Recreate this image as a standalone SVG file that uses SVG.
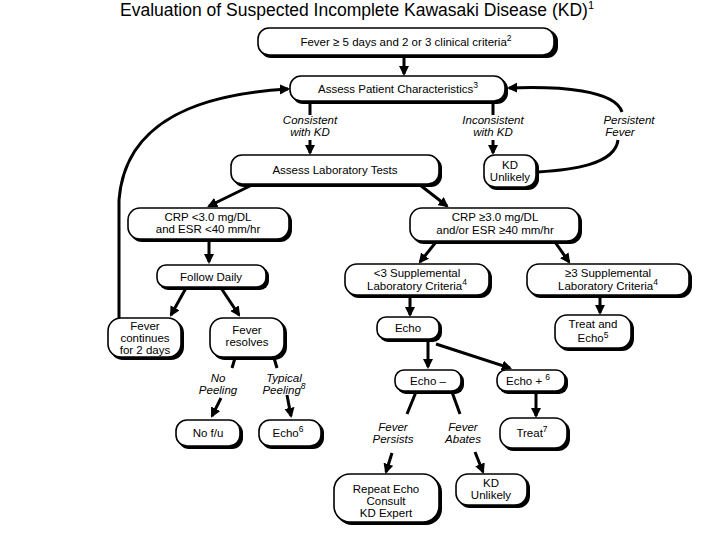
<svg xmlns="http://www.w3.org/2000/svg" width="720" height="540" viewBox="0 0 720 540">
<style>
text{font-family:"Liberation Sans",Arial,sans-serif;font-size:11.5px;fill:#000;text-anchor:middle}
.t{font-size:17.5px}
.i{font-style:italic}
.sh{fill:#000}
.bx{fill:#fff;stroke:#000;stroke-width:1.6}
.c path{fill:none;stroke:#000;stroke-width:3}
.s{font-size:8.5px}
</style>
<defs>
<marker id="a" viewBox="0 0 10 10" refX="8" refY="5" markerWidth="3.4" markerHeight="3.4" orient="auto" markerUnits="strokeWidth">
<path d="M0,0 L10,5 L0,10 z" fill="#000"/>
</marker>
</defs>
<rect width="720" height="540" fill="#fff"/>
<text class="t" x="357" y="16">Evaluation of Suspected Incomplete Kawasaki Disease (KD)<tspan font-size="11" dy="-7">1</tspan></text>

<g class="c">
<path d="M404,56 V74" marker-end="url(#a)"/>
<path d="M310,102 V115"/><path d="M310,140 V153" marker-end="url(#a)"/>
<path d="M493,102 V115"/><path d="M493,140 V153" marker-end="url(#a)"/>
<path d="M622,112 C615,90 560,86 509,88" marker-end="url(#a)"/>
<path d="M618,140 C615,165 570,170 538,172"/>
<path d="M119,318 V200 C125,120 200,94 288,89" marker-end="url(#a)"/>
<path d="M252,185 L209,206" marker-end="url(#a)"/>
<path d="M420,185 L447,206" marker-end="url(#a)"/>
<path d="M209,240 V262" marker-end="url(#a)"/>
<path d="M436,242 L420,262" marker-end="url(#a)"/>
<path d="M555,242 L569,262" marker-end="url(#a)"/>
<path d="M186,288 L171,315" marker-end="url(#a)"/>
<path d="M221,288 L239,315" marker-end="url(#a)"/>
<path d="M410,296 V315" marker-end="url(#a)"/>
<path d="M600,296 V313" marker-end="url(#a)"/>
<path d="M428,340 V367" marker-end="url(#a)"/>
<path d="M436,344 L510,368" marker-end="url(#a)"/>
<path d="M235,358 L232,368"/><path d="M274,358 L277,368"/>
<path d="M221,398 L212,416" marker-end="url(#a)"/>
<path d="M287,395 L291,416" marker-end="url(#a)"/>
<path d="M536,392 V416" marker-end="url(#a)"/>
<path d="M416,392 L407,414"/><path d="M452,392 L460,414"/>
<path d="M392,453 L386,472" marker-end="url(#a)"/>
<path d="M475,452 L483,472" marker-end="url(#a)"/>
</g>

<g id="labels">
<text class="i" x="310" y="124">Consistent</text><text class="i" x="310" y="136">with KD</text>
<text class="i" x="493" y="124">Inconsistent</text><text class="i" x="493" y="136">with KD</text>
<text class="i" x="629" y="124">Persistent</text><text class="i" x="620" y="136">Fever</text>
<text class="i" x="218" y="382">No</text><text class="i" x="218" y="394">Peeling</text>
<text class="i" x="284" y="382">Typical</text><text class="i" x="284" y="394">Peeling<tspan class="s" dy="-5">8</tspan></text>
<text class="i" x="393" y="431">Fever</text><text class="i" x="393" y="443">Persists</text>
<text class="i" x="463" y="431">Fever</text><text class="i" x="463" y="443">Abates</text>
</g>

<g id="n1"><rect class="sh" x="260" y="30" width="298" height="28" rx="11"/><rect class="bx" x="258" y="28" width="296" height="27" rx="11"/><text x="406" y="46">Fever ≥ 5 days and 2 or 3 clinical criteria<tspan class="s" dy="-5">2</tspan></text></g>
<g id="n2"><rect class="sh" x="292" y="78" width="216" height="26" rx="11"/><rect class="bx" x="290" y="76" width="215" height="25" rx="11"/><text x="398" y="93">Assess Patient Characteristics<tspan class="s" dy="-5">3</tspan></text></g>
<g id="n3"><rect class="sh" x="233" y="157" width="209" height="30" rx="11"/><rect class="bx" x="231" y="155" width="208" height="29" rx="11"/><text x="335" y="174">Assess Laboratory Tests</text></g>
<g id="n4"><rect class="sh" x="486" y="157" width="53" height="33" rx="11"/><rect class="bx" x="484" y="155" width="52" height="32" rx="11"/><text x="510" y="169">KD</text><text x="510" y="181">Unlikely</text></g>
<g id="n5"><rect class="sh" x="130" y="210" width="162" height="32" rx="12"/><rect class="bx" x="128" y="208" width="161" height="31" rx="12"/><text x="208" y="221">CRP &lt;3.0 mg/DL</text><text x="208" y="233">and ESR &lt;40 mm/hr</text></g>
<g id="n6"><rect class="sh" x="412" y="210" width="170" height="34" rx="12"/><rect class="bx" x="410" y="208" width="169" height="33" rx="12"/><text x="495" y="221">CRP ≥3.0 mg/DL</text><text x="495" y="234">and/or ESR ≥40 mm/hr</text></g>
<g id="n7"><rect class="sh" x="159" y="267" width="110" height="23" rx="9"/><rect class="bx" x="157" y="265" width="109" height="22" rx="9"/><text x="211" y="281">Follow Daily</text></g>
<g id="n8"><rect class="sh" x="347" y="266" width="145" height="32" rx="12"/><rect class="bx" x="345" y="264" width="144" height="31" rx="12"/><text x="417" y="277">&lt;3 Supplemental</text><text x="417" y="290">Laboratory Criteria<tspan class="s" dy="-5">4</tspan></text></g>
<g id="n9"><rect class="sh" x="529" y="266" width="163" height="32" rx="12"/><rect class="bx" x="527" y="264" width="162" height="31" rx="12"/><text x="608" y="277">≥3 Supplemental</text><text x="608" y="290">Laboratory Criteria<tspan class="s" dy="-5">4</tspan></text></g>
<g id="n10"><rect class="sh" x="110" y="320" width="74" height="40" rx="13"/><rect class="bx" x="108" y="318" width="73" height="39" rx="13"/><text x="145" y="330">Fever</text><text x="145" y="342">continues</text><text x="145" y="354">for 2 days</text></g>
<g id="n11"><rect class="sh" x="212" y="320" width="75" height="40" rx="13"/><rect class="bx" x="210" y="318" width="74" height="39" rx="13"/><text x="247" y="334">Fever</text><text x="247" y="346">resolves</text></g>
<g id="n12"><rect class="sh" x="379" y="319" width="63" height="23" rx="9"/><rect class="bx" x="377" y="317" width="62" height="22" rx="9"/><text x="408" y="332">Echo</text></g>
<g id="n13"><rect class="sh" x="557" y="317" width="77" height="34" rx="12"/><rect class="bx" x="555" y="315" width="76" height="33" rx="12"/><text x="593" y="328">Treat and</text><text x="593" y="342">Echo<tspan class="s" dy="-4">5</tspan></text></g>
<g id="n14"><rect class="sh" x="397" y="372" width="67" height="22" rx="9"/><rect class="bx" x="395" y="370" width="66" height="21" rx="9"/><text x="428" y="385">Echo –</text></g>
<g id="n15"><rect class="sh" x="499" y="372" width="69" height="22" rx="9"/><rect class="bx" x="497" y="370" width="68" height="21" rx="9"/><text x="528" y="385">Echo + <tspan class="s" dy="-5">6</tspan></text></g>
<g id="n16"><rect class="sh" x="178" y="422" width="65" height="27" rx="11"/><rect class="bx" x="176" y="420" width="64" height="26" rx="11"/><text x="208" y="437">No f/u</text></g>
<g id="n17"><rect class="sh" x="261" y="422" width="63" height="27" rx="11"/><rect class="bx" x="259" y="420" width="62" height="26" rx="11"/><text x="288" y="437">Echo<tspan class="s" dy="-5">6</tspan></text></g>
<g id="n18"><rect class="sh" x="502" y="420" width="68" height="31" rx="12"/><rect class="bx" x="500" y="418" width="67" height="30" rx="12"/><text x="532" y="437">Treat<tspan class="s" dy="-5">7</tspan></text></g>
<g id="n19"><rect class="sh" x="336" y="476" width="106" height="49" rx="16"/><rect class="bx" x="334" y="474" width="105" height="48" rx="16"/><text x="386" y="493">Repeat Echo</text><text x="386" y="505">Consult</text><text x="386" y="517">KD Expert</text></g>
<g id="n20"><rect class="sh" x="458" y="476" width="72" height="32" rx="12"/><rect class="bx" x="456" y="474" width="71" height="31" rx="12"/><text x="491" y="487">KD</text><text x="491" y="499">Unlikely</text></g>
</svg>
